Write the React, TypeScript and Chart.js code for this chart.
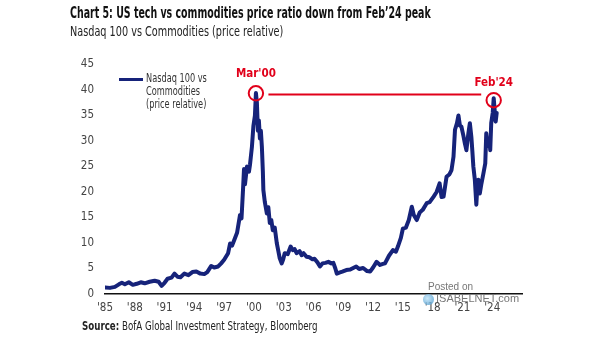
import React, { useEffect, useRef } from 'react';
import { Chart, registerables } from 'chart.js';

Chart.register(...registerables);

// ---- data ----
const years: number[] = [
  1985.0, 1985.5, 1986.0, 1986.4, 1986.7, 1987.0, 1987.4, 1987.8, 1988.2, 1988.6,
  1989.0, 1989.5, 1990.0, 1990.4, 1990.7, 1991.0, 1991.3, 1991.7, 1992.0, 1992.3,
  1992.6, 1993.0, 1993.4, 1993.8, 1994.2, 1994.6, 1995.0, 1995.3, 1995.7, 1996.0,
  1996.4, 1996.7, 1997.0, 1997.4, 1997.6, 1997.8, 1998.0, 1998.3, 1998.6, 1998.75,
  1998.9, 1999.0, 1999.1, 1999.3, 1999.5, 1999.6, 1999.8, 1999.95, 2000.1, 2000.2,
  2000.3, 2000.4, 2000.5, 2000.6, 2000.7, 2000.8, 2000.9, 2000.95, 2001.1, 2001.3,
  2001.45, 2001.6, 2001.75, 2001.9, 2002.1, 2002.3, 2002.45, 2002.6, 2002.8, 2002.95,
  2003.1, 2003.4, 2003.7, 2003.9, 2004.1, 2004.3, 2004.6, 2004.8, 2005.0, 2005.3,
  2005.6, 2005.9, 2006.1, 2006.4, 2006.65, 2006.9, 2007.2, 2007.5, 2007.8, 2008.0,
  2008.2, 2008.35, 2008.6, 2008.9, 2009.3, 2009.7, 2010.0, 2010.3, 2010.6, 2011.0,
  2011.4, 2011.7, 2012.0, 2012.35, 2012.7, 2013.0, 2013.2, 2013.6, 2014.0, 2014.3,
  2014.5, 2014.8, 2015.0, 2015.3, 2015.6, 2015.9, 2016.1, 2016.4, 2016.7, 2017.0,
  2017.4, 2017.7, 2018.1, 2018.4, 2018.7, 2018.9, 2019.1, 2019.4, 2019.7, 2019.9,
  2020.1, 2020.25, 2020.45, 2020.6, 2020.75, 2020.9, 2021.1, 2021.25, 2021.4, 2021.6,
  2021.75, 2021.9, 2022.0, 2022.1, 2022.25, 2022.4, 2022.5, 2022.6, 2022.75, 2022.9,
  2023.1, 2023.3, 2023.4, 2023.55, 2023.7, 2023.8, 2023.9, 2024.05, 2024.15, 2024.25,
  2024.35, 2024.45,
];

const ratio: number[] = [
  1.3, 1.2, 1.4, 1.9, 2.2, 1.9, 2.3, 1.8, 2.0, 2.3,
  2.1, 2.4, 2.6, 2.4, 1.6, 2.2, 3.0, 3.2, 4.0, 3.4,
  3.3, 4.0, 3.7, 4.3, 4.4, 4.0, 3.9, 4.3, 5.5, 5.2,
  5.4, 6.0, 6.7, 8.0, 9.9, 9.5, 10.5, 12.0, 15.5, 14.8,
  20.4, 24.5, 21.5, 25.0, 24.0, 25.3, 28.9, 33.0, 35.0, 39.4,
  37.5, 32.0, 34.0, 30.5, 32.0, 28.9, 24.0, 20.4, 18.0, 15.8,
  17.0, 13.9, 14.5, 12.5, 13.0, 10.0, 8.5, 7.0, 6.0, 6.8,
  8.0, 7.8, 9.3, 8.6, 8.8, 8.0, 8.4, 7.6, 8.0, 7.3,
  7.2, 6.8, 6.9, 6.2, 5.4, 6.0, 6.1, 6.3, 6.0, 6.1,
  5.0, 4.0, 4.2, 4.4, 4.7, 4.8, 5.1, 5.4, 4.9, 5.1,
  4.5, 4.4, 5.2, 6.3, 5.7, 5.9, 6.0, 7.5, 8.6, 8.3,
  9.3, 11.0, 12.8, 13.0, 14.5, 17.1, 15.5, 14.5, 16.0, 16.5,
  17.8, 18.0, 19.1, 20.0, 21.7, 19.0, 19.1, 23.0, 23.5, 24.3,
  26.9, 32.2, 33.5, 35.0, 33.0, 32.8, 31.0, 29.5, 28.2, 31.5,
  33.5, 30.8, 28.0, 25.0, 22.4, 17.5, 21.0, 22.4, 19.7, 21.5,
  23.5, 25.6, 31.5, 29.0, 30.5, 28.2, 33.5, 35.5, 38.4, 36.0,
  33.8, 35.5,
];

const xTickYears: number[] = [1985, 1988, 1991, 1994, 1997, 2000, 2003, 2006, 2009, 2012, 2015, 2018, 2021, 2024];
const yTickValues: number[] = [0, 5, 10, 15, 20, 25, 30, 35, 40, 45];

const peakLabels: string[] = ["Mar'00", "Feb'24"];
const peakYears: number[] = [2000.2, 2024.15];
const peakValues: number[] = [39.35, 38.0];
const peakLineValue = 39.1;

const seriesName = 'Nasdaq 100 vs Commodities (price relative)';

const NAVY = '#16237a';
const RED = '#e1001a';
const FONT = "'DejaVu Sans Condensed', 'Liberation Sans Narrow', Arial, sans-serif";

const peakPlugin = {
  id: 'peakMarks',
  afterDatasetsDraw(chart: any) {
    const { ctx } = chart;
    const xs = chart.scales.x;
    const ys = chart.scales.y;
    ctx.save();
    ctx.strokeStyle = RED;
    ctx.lineWidth = 2;
    const ly = ys.getPixelForValue(peakLineValue);
    const x0 = xs.getPixelForValue(peakYears[0]) + 12.5;
    const x1 = xs.getPixelForValue(peakYears[1]) - 12.5;
    ctx.beginPath();
    ctx.moveTo(x0, ly);
    ctx.lineTo(x1, ly);
    ctx.stroke();
    ctx.fillStyle = RED;
    ctx.font = `bold 11.5px ${FONT}`;
    ctx.textAlign = 'center';
    ctx.textBaseline = 'middle';
    peakYears.forEach((yr, i) => {
      const px = xs.getPixelForValue(yr);
      const py = ys.getPixelForValue(peakValues[i]);
      ctx.beginPath();
      ctx.arc(px, py, 7.2, 0, Math.PI * 2);
      ctx.stroke();
      ctx.fillText(peakLabels[i], px, py - (i === 0 ? 19 : 17.5));
    });
    ctx.restore();
  },
};

export default function App() {
  const canvasRef = useRef<HTMLCanvasElement | null>(null);

  useEffect(() => {
    if (!canvasRef.current) return;
    const chart = new Chart(canvasRef.current, {
      type: 'line',
      data: {
        datasets: [
          {
            label: seriesName,
            data: years.map((yr, i) => ({ x: yr, y: ratio[i] })),
            borderColor: NAVY,
            backgroundColor: NAVY,
            borderWidth: 4,
            pointRadius: 0,
            tension: 0,
            borderJoinStyle: 'round',
            borderCapStyle: 'round',
          },
        ],
      },
      options: {
        animation: false,
        responsive: false,
        maintainAspectRatio: false,
        layout: { padding: { top: 64.5, right: 83, bottom: 0, left: 0 } },
        plugins: {
          legend: { display: false },
          tooltip: { enabled: false },
        },
        scales: {
          x: {
            type: 'linear',
            min: 1985,
            max: 2027,
            afterFit: (scale: any) => { scale.height = 47; },
            afterBuildTicks: (scale: any) => { scale.ticks = xTickYears.map((v) => ({ value: v })); },
            grid: { display: false, drawTicks: false },
            border: { display: true, color: '#111', width: 1.5 },
            ticks: {
              padding: 7,
              color: '#444',
              font: { family: FONT, size: 11.5 },
              maxRotation: 0,
              autoSkip: false,
              callback: (v: any) => "'" + String(v).slice(2),
            },
          },
          y: {
            min: 0,
            max: 45,
            afterFit: (scale: any) => { scale.width = 105; },
            afterBuildTicks: (scale: any) => { scale.ticks = yTickValues.map((v) => ({ value: v })); },
            grid: { display: false, drawTicks: false },
            border: { display: false },
            ticks: {
              padding: 11,
              color: '#444',
              font: { family: FONT, size: 11.5 },
            },
          },
        },
      },
      plugins: [peakPlugin],
    } as any);
    return () => chart.destroy();
  }, []);

  const abs = (s: React.CSSProperties, sx = 1): React.CSSProperties => ({
    position: 'absolute',
    whiteSpace: 'nowrap',
    fontFamily: FONT,
    transform: `scaleX(${sx})`,
    transformOrigin: 'left top',
    ...s,
  });

  return (
    <div style={{ position: 'fixed', left: 0, top: 0, width: 605, height: 341, background: '#fff', overflow: 'hidden' }}>
      <canvas ref={canvasRef} width={605} height={341} style={{ position: 'absolute', left: 0, top: 0, width: 605, height: 341 }} />
      <div style={abs({ left: 70, top: 4, fontSize: 15, fontWeight: 'bold', color: '#111' }, 0.70)}>
        Chart 5: US tech vs commodities price ratio down from Feb’24 peak
      </div>
      <div style={abs({ left: 70, top: 23, fontSize: 14, color: '#222' }, 0.77)}>
        Nasdaq 100 vs Commodities (price relative)
      </div>
      <div style={{ position: 'absolute', left: 119, top: 77.5, width: 24, height: 3, background: NAVY }} />
      <div style={abs({ left: 146, top: 72, fontSize: 12, lineHeight: '13px', color: '#333', whiteSpace: 'pre' }, 0.76)}>
        {'Nasdaq 100 vs\nCommodities\n(price relative)'}
      </div>
      <div style={abs({ left: 428, top: 281, fontSize: 10, color: '#777', fontFamily: 'Arial, sans-serif' })}>Posted on</div>
      <div style={{ position: 'absolute', left: 423, top: 294, width: 11, height: 11, borderRadius: '50%', background: 'radial-gradient(circle at 40% 40%, #bfe3f7, #3a8fc8)', opacity: 0.8 }} />
      <div style={abs({ left: 436, top: 292, fontSize: 11, color: '#777', fontFamily: 'Arial, sans-serif' })}>ISABELNET.com</div>
      <div style={abs({ left: 82, top: 319, fontSize: 12, color: '#222' }, 0.805)}>
        <b>Source:</b> BofA Global Investment Strategy, Bloomberg
      </div>
    </div>
  );
}
